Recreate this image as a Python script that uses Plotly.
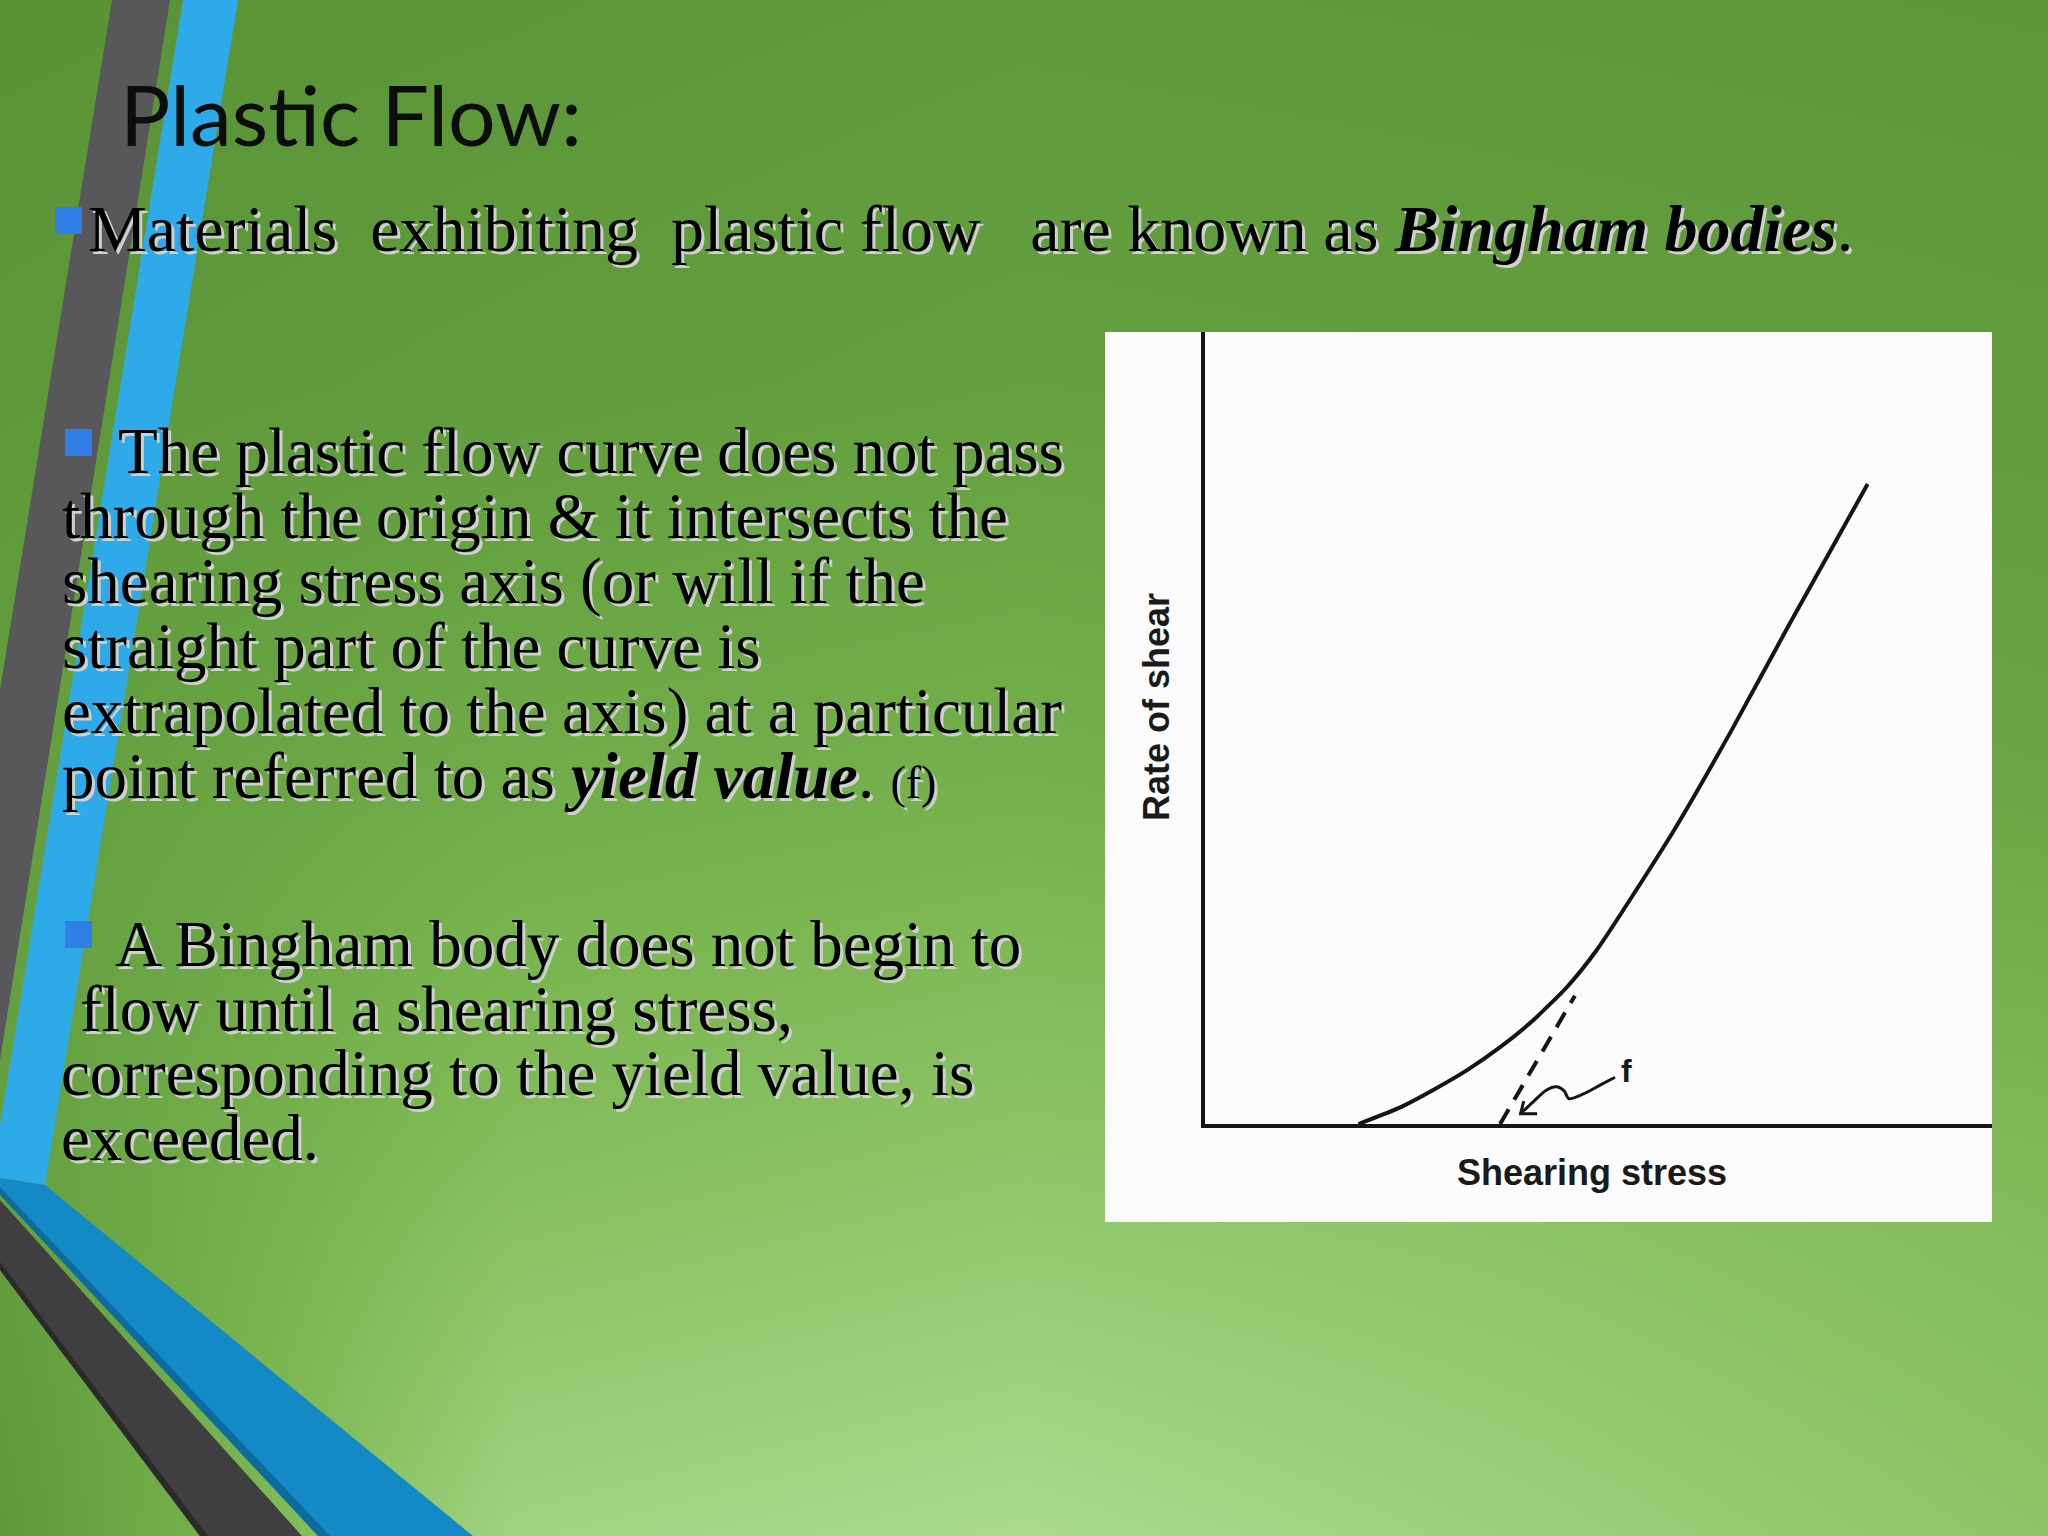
import plotly.graph_objects as go

W, H = 2048, 1536

# plastic flow curve: shearing stress (x) vs rate of shear (y), arbitrary units 0-10
curve_x = [1.95, 2.48, 2.90, 3.33, 3.75, 4.17, 4.60, 4.98, 5.96, 6.69, 7.42, 8.42]
curve_y = [0.00, 0.21, 0.43, 0.68, 0.97, 1.31, 1.73, 2.20, 3.71, 4.97, 6.30, 8.08]

# straight part extrapolated to the axis -> yield value f
dashed_x = [3.75, 4.70]
dashed_y = [0.00, 1.62]

# wavy pointer from the "f" label to the yield value
pointer_x = [5.21, 5.02, 4.81, 4.62, 4.57, 4.47, 4.34, 4.17, 4.01]
pointer_y = [0.59, 0.49, 0.38, 0.32, 0.41, 0.47, 0.43, 0.28, 0.13]
head_x = [4.22, 4.01, 4.05]
head_y = [0.13, 0.13, 0.29]

x_label = "Shearing stress"
y_label = "Rate of shear"
f_label = "f"

title = "Plastic Flow:"
intro = ("Materials\u00a0 exhibiting\u00a0 plastic flow\u00a0\u00a0 are known as "
         "<b><i>Bingham bodies</i></b>.")
para1 = [
    "The plastic flow curve does not pass",
    "through the origin & it intersects the",
    "shearing stress axis (or will if the",
    "straight part of the curve is",
    "extrapolated to the axis) at a particular",
    "point referred to as <b><i>yield value</i></b>. <span style='font-size:46px'>(f)</span>",
]
para2 = [
    "A Bingham body does not begin to",
    "flow until a shearing stress,",
    "corresponding to the yield value, is",
    "exceeded.",
]

# background shading (0 = dark green, 1 = light green)
bg_cols = [0, 512, 1024, 1536, 2048]
bg_rows = [0, 384, 768, 1152, 1536]
bg_shade = [
    [0.05, 0.08, 0.12, 0.10, 0.08],
    [0.10, 0.15, 0.20, 0.18, 0.15],
    [0.18, 0.33, 0.38, 0.30, 0.25],
    [0.20, 0.55, 0.65, 0.60, 0.50],
    [0.10, 0.85, 0.95, 0.80, 0.65],
]


def px(x, y):
    return x / W, 1 - y / H


fig = go.Figure()

fig.add_trace(go.Heatmap(
    x=bg_cols, y=bg_rows, z=bg_shade, zmin=0, zmax=1, zsmooth="best",
    colorscale=[[0, "#558f33"], [0.45, "#7ab650"], [1, "#b0de95"]],
    showscale=False, hoverinfo="skip", xaxis="x", yaxis="y"))


def poly(pts, color):
    xs = [p[0] for p in pts] + [pts[0][0]]
    ys = [p[1] for p in pts] + [pts[0][1]]
    fig.add_trace(go.Scatter(x=xs, y=ys, mode="lines", fill="toself", fillcolor=color,
                             line=dict(width=0, color=color), hoverinfo="skip",
                             xaxis="x", yaxis="y"))


# slide decoration stripes
poly([(112, 0), (170, 0), (0, 1060), (0, 690)], "#58585a")
poly([(183, 0), (238, 0), (45, 1185), (0, 1178), (0, 1126)], "#2faae8")
poly([(0, 1178), (45, 1185), (473, 1536), (320, 1536), (0, 1187)], "#1389c6")
poly([(0, 1187), (330, 1536), (318, 1536), (0, 1195)], "#0e6b9e")
poly([(0, 1200), (302, 1536), (200, 1536), (0, 1270)], "#3f3e40")
poly([(0, 1262), (208, 1536), (200, 1536), (0, 1270)], "#2a2a2b")

# bullets
for bx, by in [(55, 207), (65, 429), (65, 921)]:
    poly([(bx, by), (bx + 27, by), (bx + 27, by + 27), (bx, by + 27)], "#2f7fe6")

# white picture frame behind the graph
poly([(1105, 332), (1992, 332), (1992, 1222), (1105, 1222)], "#fcfbfc")

ink = "#151515"
fig.add_trace(go.Scatter(x=curve_x, y=curve_y, mode="lines", xaxis="x2", yaxis="y2",
                         line=dict(color=ink, width=4, shape="spline", smoothing=0.6),
                         cliponaxis=False, name="plastic flow"))
fig.add_trace(go.Scatter(x=dashed_x, y=dashed_y, mode="lines", xaxis="x2", yaxis="y2",
                         line=dict(color=ink, width=4, dash="17px,11px"),
                         cliponaxis=False, name="extrapolation"))
fig.add_trace(go.Scatter(x=pointer_x, y=pointer_y, mode="lines", xaxis="x2", yaxis="y2",
                         line=dict(color=ink, width=3, shape="spline", smoothing=0.8),
                         cliponaxis=False, name="pointer"))
fig.add_trace(go.Scatter(x=head_x, y=head_y, mode="lines", xaxis="x2", yaxis="y2",
                         line=dict(color=ink, width=3), cliponaxis=False, name="head"))

annotations = []
shadow = "3px 3px 0px #cfd1cd"


def text(x, y, s, size, family, color="#000000", shade=False, weight="normal", **kw):
    cx, cy = px(x, y)
    font = dict(family=family, size=size, color=color, weight=weight)
    if shade:
        font["shadow"] = shadow
    annotations.append(dict(x=cx, y=cy, xref="paper", yref="paper", text=s,
                            showarrow=False, font=font,
                            xanchor=kw.pop("xanchor", "left"),
                            yanchor=kw.pop("yanchor", "middle"), **kw))


serif = "Liberation Serif"
text(118, 145 - 32, title, 84, "Lato", color="#0d0d0d")
text(86, 250 - 22, intro, 66, serif, shade=True)

for i, line in enumerate(para1):
    x0 = 116 if i == 0 else 60
    text(x0, 473 + 65.0 * i - 22, line, 65, serif, shade=True)

for i, line, x0 in zip(range(4), para2, [113, 78, 59, 59]):
    text(x0, 966 + 64.7 * i - 22, line, 65, serif, shade=True)

sans = "Liberation Sans"
text(1592, 1172, x_label, 36, sans, color="#1a1a1a", weight="bold", xanchor="center")
text(1157, 707, y_label, 36, sans, color="#1a1a1a", weight="bold", xanchor="center",
     textangle=-90)
text(1626, 1071, f_label, 32, sans, color="#1a1a1a", weight="bold", xanchor="center")

axis_style = dict(showline=True, linecolor=ink, linewidth=4, showgrid=False,
                  zeroline=False, showticklabels=False, ticks="", range=[0, 10],
                  fixedrange=True)

fig.update_layout(
    width=W, height=H, margin=dict(l=0, r=0, t=0, b=0),
    paper_bgcolor="#5e9a3c", plot_bgcolor="rgba(0,0,0,0)", showlegend=False,
    xaxis=dict(range=[0, W], domain=[0, 1], visible=False, fixedrange=True),
    yaxis=dict(range=[H, 0], domain=[0, 1], visible=False, fixedrange=True),
    xaxis2=dict(axis_style, domain=[1205 / W, 1992 / W], anchor="y2"),
    yaxis2=dict(axis_style, domain=[1 - 1124 / H, 1 - 332 / H], anchor="x2"),
    annotations=annotations,
)

fig.write_html("out.html", config={"displayModeBar": False},
               post_script="document.body.style.margin='0';")
